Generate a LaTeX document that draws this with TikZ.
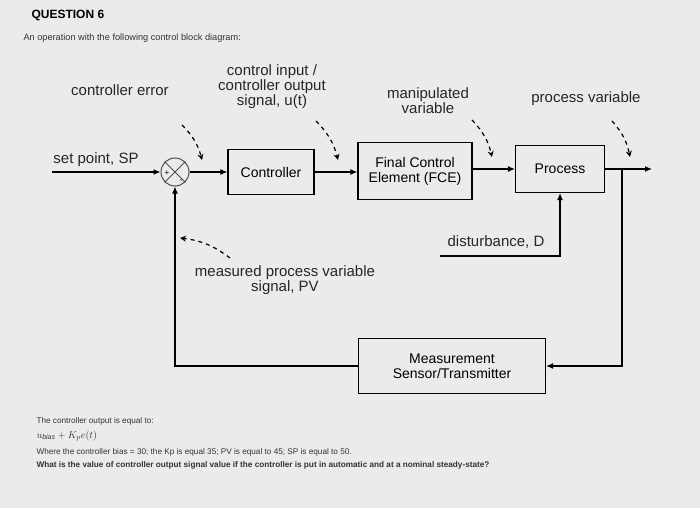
\documentclass[tikz,border=0pt]{standalone}
\usepackage{fontspec}
\setmainfont{Liberation Sans}
\usetikzlibrary{arrows.meta}
\begin{document}
\begin{tikzpicture}[x=1pt,y=-1pt,
  blk/.style={draw,line width=1.2pt,align=center,font=\fontsize{14}{15}\selectfont},
  lbl/.style={align=center,font=\fontsize{15}{15}\selectfont,text=black!85},
  ln/.style={line width=1.2pt},
  ar/.style={ln,-{Latex[length=7pt,width=6pt]}},
  da/.style={line width=1.2pt,dash pattern=on 4pt off 4pt,-{Stealth[open,length=6pt,width=6pt]}},
  sm/.style={font=\fontsize{8.2}{9}\selectfont,anchor=west,text=black!80}]
\fill[black!8] (0,0) rectangle (700,508);
\useasboundingbox (0,0) rectangle (700,508);
\node[anchor=west,font=\bfseries\fontsize{12}{13}\selectfont] (q) at (28,15) {QUESTION 6};
\node[sm,font=\fontsize{9.2}{10}\selectfont] (intro) at (20,38) {An operation with the following control block diagram:};
\node[draw=black!70,line width=1pt,circle,minimum size=28pt,inner sep=0] (s) at (175,172) {};
\draw[black!70,line width=0.8pt] (s.north west)--(s.south east) (s.north east)--(s.south west);
\node[font=\footnotesize] (plus) at (167,173) {+};
\node[font=\footnotesize] (minus) at (181,181) {-};
\node[blk,minimum width=86pt,minimum height=45pt] (c) at (271,172) {Controller};
\node[blk,minimum width=114pt,minimum height=57pt] (f) at (415,171) {Final Control\\Element (FCE)};
\node[blk,minimum width=89pt,minimum height=47pt] (p) at (560,169) {Process};
\node[blk,minimum width=187pt,minimum height=55pt] (m) at (452,366) {Measurement\\Sensor/Transmitter};
\coordinate (spin) at (52,172);
\coordinate (out) at (652,169);
\coordinate (br) at (622,169);
\coordinate (brd) at (622,366);
\coordinate (fbl) at (175,366);
\coordinate (d1) at (440,256);
\coordinate (d2) at (560,256);
\draw[ar] (spin) -- (s.west);
\draw[ar] (s.east) -- (c.west);
\draw[ar] (c.east) -- (f.west|-c.east);
\draw[ar] (f.east|-p.west) -- (p.west);
\draw[ar] (p.east) -- (out);
\draw[ar] (br) -- (brd) -- (m.east);
\draw[ar] (m.west) -- (fbl) -- (s.south);
\draw[ar] (d1) -- (d2) -- (p.south-|d2);
\node[lbl] (spl) at (96,160) {set point, SP};
\node[lbl] (ce) at (120,90) {controller error};
\node[lbl] (ci) at (272,87) {control input /\\controller output\\signal, u(t)};
\node[lbl] (mv) at (428,101) {manipulated\\variable};
\node[lbl] (pv) at (586,99) {process variable};
\node[lbl] (dl) at (496,242) {disturbance, D};
\node[lbl] (mp) at (285,280) {measured process variable\\signal, PV};
\coordinate (a1) at (182,125); \coordinate (a1e) at (202,160);
\coordinate (a2) at (316,121); \coordinate (a2e) at (338,160);
\coordinate (a3) at (472,120); \coordinate (a3e) at (492,157);
\coordinate (a4) at (612,121); \coordinate (a4e) at (630,157);
\coordinate (a5) at (230,258); \coordinate (a5e) at (180,238);
\draw[da] (a1) to[bend left=15] (a1e);
\draw[da] (a2) to[bend left=15] (a2e);
\draw[da] (a3) to[bend left=15] (a3e);
\draw[da] (a4) to[bend left=15] (a4e);
\draw[da] (a5) to[bend right=15] (a5e);
\node[sm] (t1) at (33,421) {The controller output is equal to:};
\node[sm,font=\fontsize{10}{11}\selectfont] (t2) at (33,436) {$u_{\mathit{bias}}+K_{p}e(t)$};
\node[sm] (t3) at (33,452) {Where the controller bias = 30; the Kp is equal 35; PV is equal to 45; SP is equal to 50.};
\node[sm,font=\bfseries\fontsize{8.2}{9}\selectfont] (t4) at (33,465) {What is the value of controller output signal value if the controller is put in automatic and at a nominal steady-state?};
\end{tikzpicture}
\end{document}
